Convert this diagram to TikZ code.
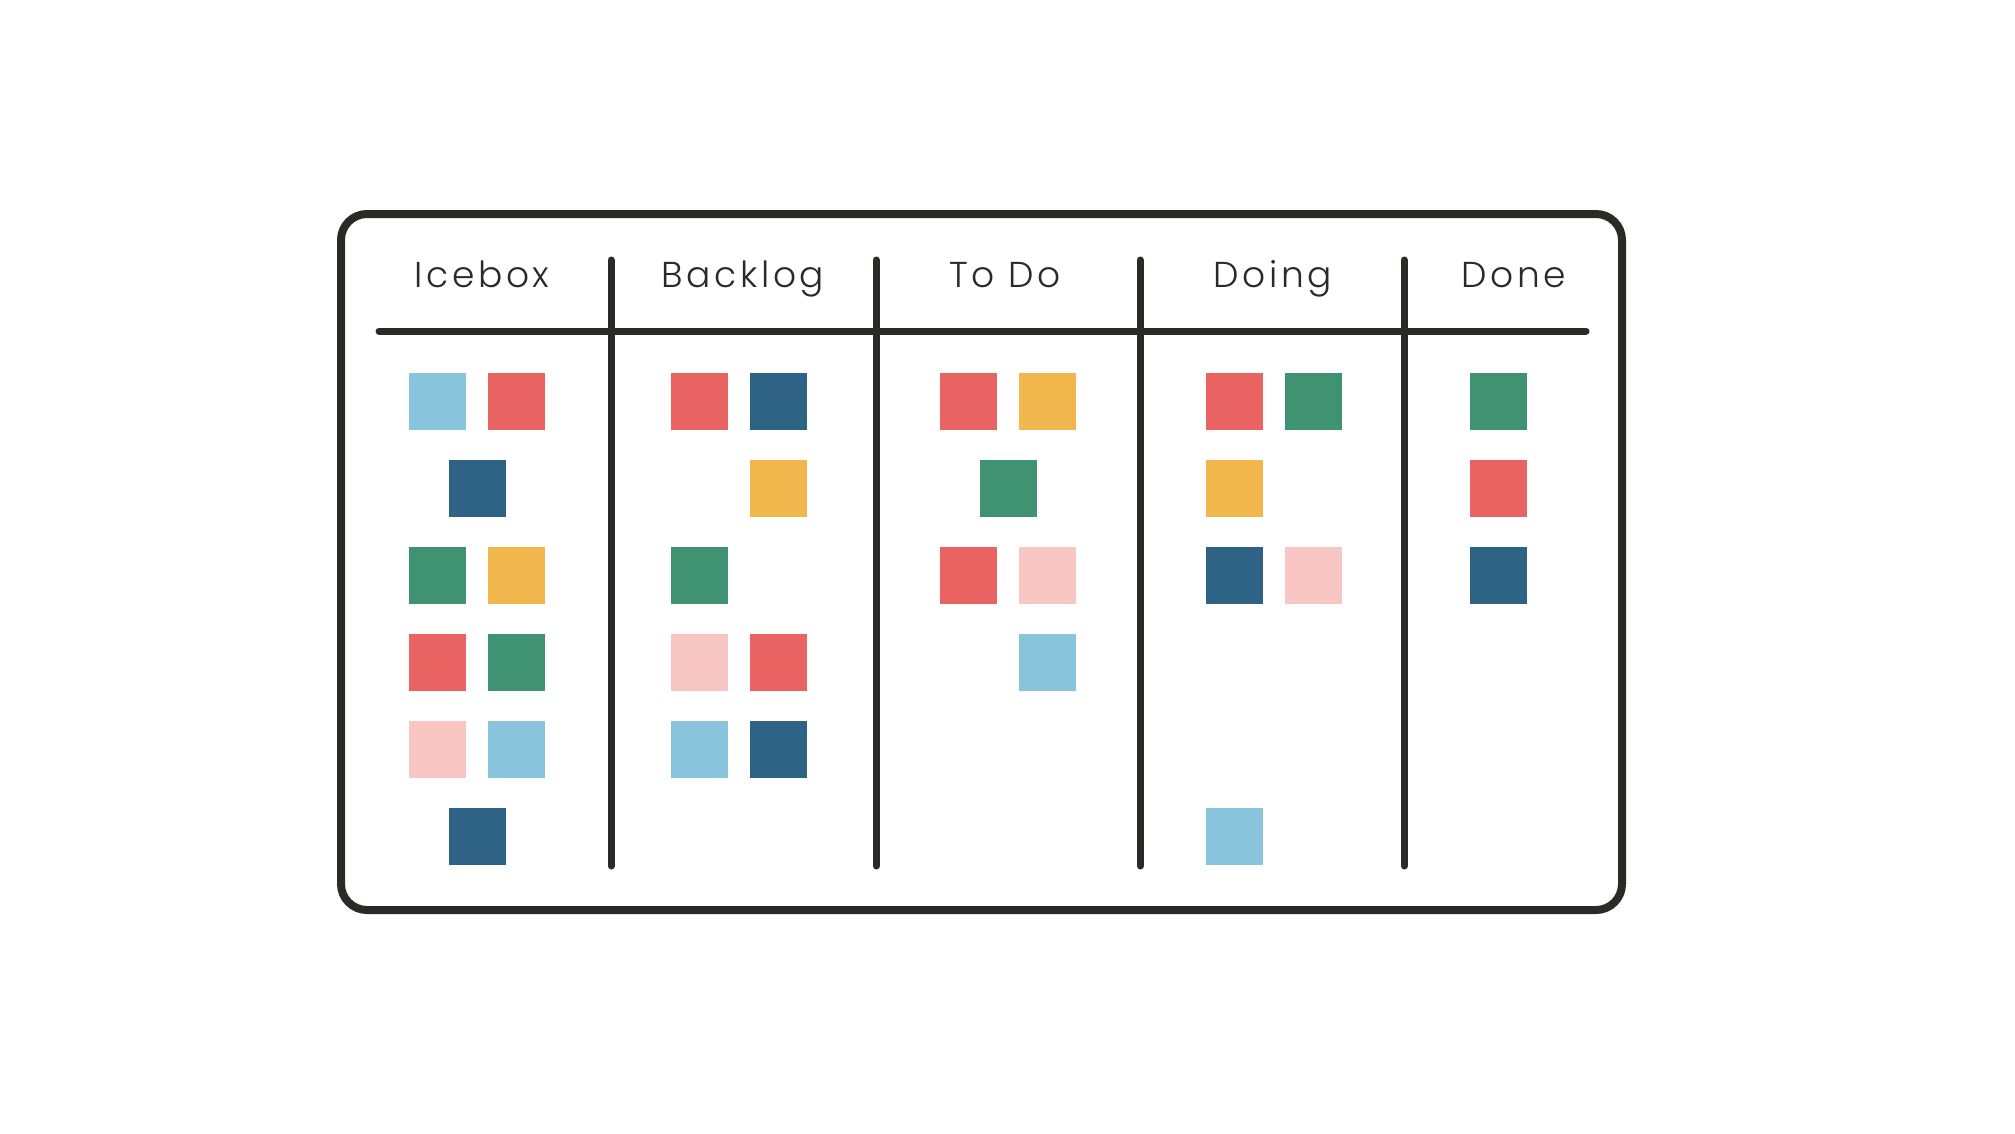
\documentclass[tikz,border=0pt]{standalone}
\usepackage{fontspec}
\setmainfont{Poppins}[UprightFont=* Light, LetterSpace=10]
\usetikzlibrary{positioning}

\definecolor{boardline}{HTML}{282B28}
\definecolor{cardlb}{HTML}{88C5DD}
\definecolor{cardred}{HTML}{E96363}
\definecolor{carddb}{HTML}{2F6386}
\definecolor{cardyel}{HTML}{F1B74C}
\definecolor{cardgrn}{HTML}{3F9373}
\definecolor{cardpnk}{HTML}{F8C6C3}

\tikzset{
  card/.style={draw=none, minimum size=57pt, inner sep=0pt, outer sep=0pt},
  colhead/.style={anchor=base, text=boardline, font=\fontsize{36}{40}\selectfont},
  board/.style={boardline, line width=8pt, rounded corners=26pt},
  rule/.style={boardline, line width=7pt, line cap=round}
}

\begin{document}
\begin{tikzpicture}[x=1pt, y=-1pt]
\useasboundingbox (0,0) rectangle (2015,1133);
%board
\draw[board] (341,214) rectangle (1622,910);
%header line
\draw[rule] (379,331) -- (1586,331);
%column lines
\draw[rule] (611,260) -- (611,866);
\draw[rule] (876,260) -- (876,866);
\draw[rule] (1140,260) -- (1140,866);
\draw[rule] (1404,260) -- (1404,866);
%headers
\node[colhead](hice) at (482,287){Icebox};
\node[colhead](hback) at (743,287){Backlog};
\node[colhead](htodo) at (1005,287){To Do};
\node[colhead](hdoing) at (1273,287){Doing};
\node[colhead](hdone) at (1514,287){Done};
%icebox cards
\node[card, fill=cardlb](ice1a) at (437.5,401.5){};
\node[card, fill=cardred](ice1b) at (516.5,401.5){};
\node[card, fill=carddb](ice2) at (477,488.5){};
\node[card, fill=cardgrn](ice3a) at (437.5,575.5){};
\node[card, fill=cardyel](ice3b) at (516.5,575.5){};
\node[card, fill=cardred](ice4a) at (437.5,662.5){};
\node[card, fill=cardgrn](ice4b) at (516.5,662.5){};
\node[card, fill=cardpnk](ice5a) at (437.5,749.5){};
\node[card, fill=cardlb](ice5b) at (516.5,749.5){};
\node[card, fill=carddb](ice6) at (477,836.5){};
%backlog cards
\node[card, fill=cardred](back1a) at (699.5,401.5){};
\node[card, fill=carddb](back1b) at (778,401.5){};
\node[card, fill=cardyel](back2b) at (778,488.5){};
\node[card, fill=cardgrn](back3a) at (699.5,575.5){};
\node[card, fill=cardpnk](back4a) at (699.5,662.5){};
\node[card, fill=cardred](back4b) at (778,662.5){};
\node[card, fill=cardlb](back5a) at (699.5,749.5){};
\node[card, fill=carddb](back5b) at (778,749.5){};
%to do cards
\node[card, fill=cardred](todo1a) at (968.5,401.5){};
\node[card, fill=cardyel](todo1b) at (1047,401.5){};
\node[card, fill=cardgrn](todo2) at (1008,488.5){};
\node[card, fill=cardred](todo3a) at (968.5,575.5){};
\node[card, fill=cardpnk](todo3b) at (1047,575.5){};
\node[card, fill=cardlb](todo4b) at (1047,662.5){};
%doing cards
\node[card, fill=cardred](doing1a) at (1234.5,401.5){};
\node[card, fill=cardgrn](doing1b) at (1313.5,401.5){};
\node[card, fill=cardyel](doing2a) at (1234.5,488.5){};
\node[card, fill=carddb](doing3a) at (1234.5,575.5){};
\node[card, fill=cardpnk](doing3b) at (1313.5,575.5){};
\node[card, fill=cardlb](doing6a) at (1234.5,836.5){};
%done cards
\node[card, fill=cardgrn](done1) at (1498.5,401.5){};
\node[card, fill=cardred](done2) at (1498.5,488.5){};
\node[card, fill=carddb](done3) at (1498.5,575.5){};
\end{tikzpicture}
\end{document}
